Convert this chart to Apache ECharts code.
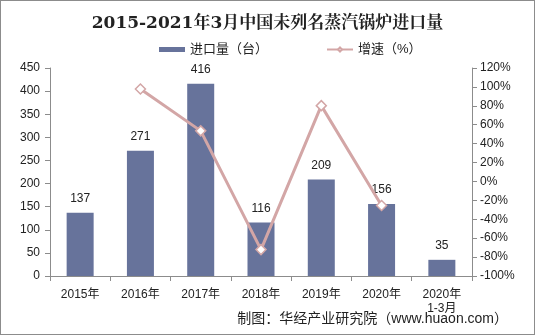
<!DOCTYPE html>
<html>
<head>
<meta charset="utf-8">
<script src="https://cdn.jsdelivr.net/npm/echarts@6/dist/echarts.min.js"></script>
<style>
  html, body { margin: 0; padding: 0; background: #fff; }
  #chart { width: 535px; height: 335px; box-sizing: border-box; border: 1px solid #8c8c8c; }
</style>
</head>
<body>
<div id="chart"></div>
<script>
const categories = ['2015年', '2016年', '2017年', '2018年', '2019年', '2020年', '2020年\n1-3月'];
const imports = [137, 271, 416, 116, 209, 156, 35];
const growth = [null, 97.8, 53.5, -72.1, 80.2, -25.4, null];

const myChart = echarts.init(document.getElementById('chart'));
const font = 'Arial, "Liberation Sans", "Noto Sans CJK SC", sans-serif';

const option = {
  animation: false,
  textStyle: { fontFamily: font },
  title: {
    text: '2015-2021年3月中国未列名蒸汽锅炉进口量',
    left: 'center',
    top: 9,
    textStyle: { fontFamily: '"DejaVu Serif", "Noto Serif CJK SC", "Noto Sans CJK SC", serif', fontSize: 17, fontWeight: 'bold', color: '#222' }
  },
  legend: {
    top: 37,
    left: 153,
    itemGap: 58,
    itemWidth: 26,
    itemHeight: 5,
    textStyle: { fontSize: 13, color: '#222', fontFamily: font },
    data: [
      { name: '进口量（台）', icon: 'rect' },
      { name: '增速（%）' }
    ]
  },
  grid: { left: 49, right: 62, top: 67, bottom: 58, containLabel: false },
  xAxis: {
    type: 'category',
    data: categories,
    axisLine: { lineStyle: { color: '#8c8c8c' } },
    axisTick: { show: true, alignWithLabel: false, length: 5, lineStyle: { color: '#8c8c8c' } },
    axisLabel: { color: '#222', fontSize: 12, margin: 12, lineHeight: 14 }
  },
  yAxis: [
    {
      type: 'value', min: 0, max: 450, interval: 50,
      axisLine: { show: true, lineStyle: { color: '#8c8c8c' } },
      axisTick: { show: true, length: 5, lineStyle: { color: '#8c8c8c' } },
      axisLabel: { color: '#222', fontSize: 12, margin: 10 },
      splitLine: { show: false }
    },
    {
      type: 'value', min: -100, max: 120, interval: 20,
      axisLine: { show: true, lineStyle: { color: '#8c8c8c' } },
      axisTick: { show: true, length: 5, lineStyle: { color: '#8c8c8c' } },
      axisLabel: { color: '#222', fontSize: 12, margin: 8, formatter: '{value}%' },
      splitLine: { show: false }
    }
  ],
  series: [
    {
      name: '进口量（台）',
      type: 'bar',
      data: imports,
      barWidth: 27,
      itemStyle: { color: '#67739b' },
      label: { show: true, position: 'top', color: '#222', fontSize: 12, distance: 8 }
    },
    {
      name: '增速（%）',
      type: 'line',
      yAxisIndex: 1,
      data: growth,
      symbol: 'diamond',
      symbolSize: 10,
      connectNulls: false,
      lineStyle: { color: '#d3a6a6', width: 3 },
      itemStyle: { color: '#fff', borderColor: '#d3a6a6', borderWidth: 1.5 }
    }
  ],
  graphic: [
    {
      type: 'text',
      right: 26,
      bottom: 8,
      style: { text: '制图：华经产业研究院（www.huaon.com）', fill: '#222', font: '14px ' + font }
    }
  ]
};

myChart.setOption(option);
</script>
</body>
</html>
